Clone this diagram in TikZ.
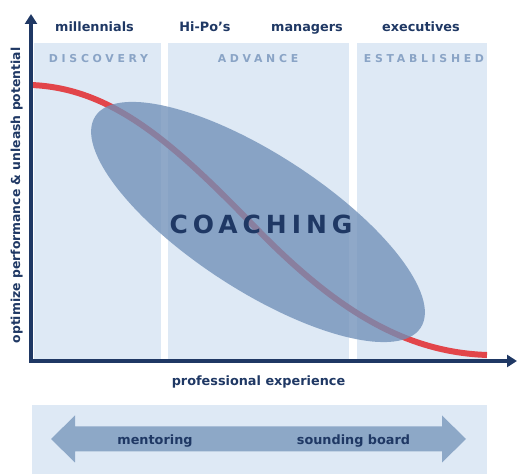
\documentclass[tikz,border=0pt]{standalone}
\usepackage{fontspec}
\setmainfont{DejaVu Sans}
\newfontfamily\phasefont[LetterSpace=34]{DejaVu Sans}
\newfontfamily\coachfont[LetterSpace=20]{DejaVu Sans}
\usetikzlibrary{arrows.meta}
\definecolor{navy}{HTML}{1F3864}
\definecolor{panelblue}{HTML}{DEE9F5}
\definecolor{phasegrey}{HTML}{8AA4C6}
\definecolor{coachblue}{HTML}{7090B8}
\definecolor{arrowblue}{HTML}{8DA8C7}
\definecolor{curvered}{HTML}{E2454A}
\tikzset{axisline/.style={{Triangle[length=2mm,width=2.4mm]}-{Triangle[length=2mm,width=2.4mm]},draw=navy,line width=1.8pt},
  panel/.style={fill=panelblue},
  grouplabel/.style={font=\fontsize{7.3}{8}\selectfont\bfseries,text=navy,text height=1.6ex,text depth=.45ex},
  phaselabel/.style={font={\phasefont\bfseries\fontsize{6.2}{7}\selectfont},text=phasegrey},
  coachlabel/.style={font={\coachfont\bfseries\fontsize{14.2}{16}\selectfont},text=navy},
  curve/.style={draw=curvered,line width=3.4pt},
  bubble/.style={fill=coachblue,fill opacity=.78}}

\begin{document}
\begin{tikzpicture}[x=1cm,y=-1cm]
\path[use as bounding box] (0,0) rectangle (10.5,9.48);
% phase panels
\fill[panel] (.68,.86) rectangle (3.22,7.18);
\fill[panel] (3.36,.86) rectangle (6.98,7.18);
\fill[panel] (7.14,.86) rectangle (9.74,7.18);
\node[phaselabel] (discovery) at (1.97,1.18) {DISCOVERY};
\node[phaselabel] (advance) at (5.16,1.18) {ADVANCE};
\node[phaselabel] (established) at (8.48,1.18) {ESTABLISHED};
\node[grouplabel] (millennials) at (1.89,.52) {millennials};
\node[grouplabel] (hipos) at (4.10,.52) {Hi-Po’s};
\node[grouplabel] (managers) at (6.14,.52) {managers};
\node[grouplabel] (executives) at (8.42,.52) {executives};
% potential curve and coaching zone
\draw[curve] (.62,1.70) .. controls (2.2,1.76) and (3.4,2.8) .. (5.0,4.44)
  .. controls (6.6,6.1) and (8.0,7.04) .. (9.74,7.10);
\fill[bubble,rotate around={-33:(5.16,4.44)}] (5.16,4.44) ellipse [x radius=3.88,y radius=1.36];
\node[coachlabel] (coaching) at (5.22,4.48) {COACHING};
% axes
\coordinate (origin) at (.62,7.22);
\coordinate (ytip) at (.62,.28);
\coordinate (xtip) at (10.34,7.22);
\draw[axisline] (ytip) -- (origin) -- (xtip);
\node[grouplabel] (xlabel) at (5.17,7.6) {professional experience};
\node[grouplabel,font=\fontsize{7.05}{8}\selectfont\bfseries,rotate=90] (ylabel) at (.29,3.91) {optimize performance \& unleash potential};
% support range
\fill[panel] (.64,8.10) rectangle (9.74,9.48);
\fill[arrowblue] (1.02,8.78) -- (1.50,8.31) -- (1.50,8.53) -- (8.84,8.53) -- (8.84,8.31)
  -- (9.32,8.78) -- (8.84,9.25) -- (8.84,9.03) -- (1.50,9.03) -- (1.50,9.25) -- cycle;
\node[grouplabel] (mentoring) at (3.10,8.78) {mentoring};
\node[grouplabel] (sounding) at (7.07,8.78) {sounding board};
\end{tikzpicture}
\end{document}
